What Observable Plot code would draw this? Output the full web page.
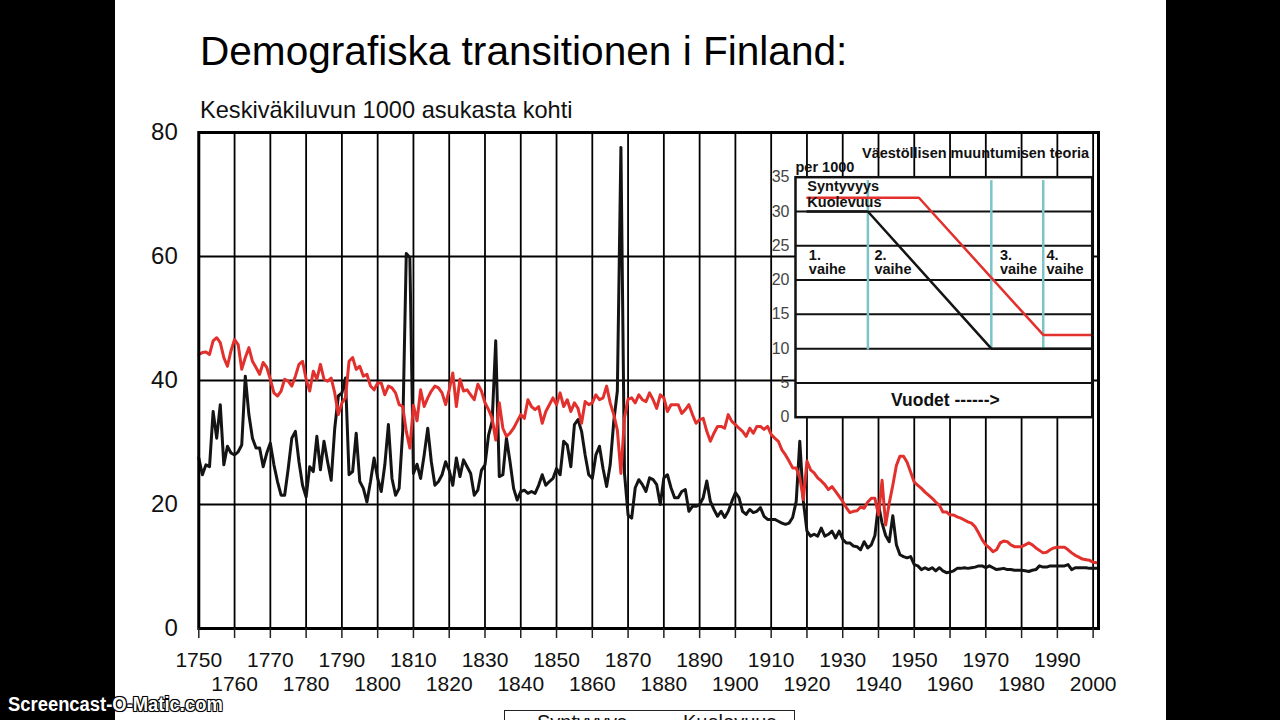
<!DOCTYPE html>
<html>
<head>
<meta charset="utf-8">
<script src="https://cdn.jsdelivr.net/npm/d3@7"></script>
<script src="https://cdn.jsdelivr.net/npm/@observablehq/plot@0.6"></script>
<style>
  html, body { margin: 0; padding: 0; width: 1280px; height: 720px; overflow: hidden; background: #000; }
  body { position: relative; font-family: "Liberation Sans", Arial, sans-serif; }
  #slide { position: absolute; left: 115px; top: 0; width: 1051px; height: 720px; background: #fff; }
  #main { position: absolute; left: 0; top: 0; }
  #inset { position: absolute; left: 760px; top: 140px; }
  .title { position: absolute; left: 200px; top: 30.5px; font-size: 40.6px; line-height: 40px; color: #000; white-space: nowrap; }
  .subtitle { position: absolute; left: 200px; top: 99px; font-size: 23.6px; line-height: 23px; color: #111; white-space: nowrap; }
  #legend { position: absolute; left: 504px; top: 710px; width: 291px; height: 40px; border: 1.5px solid #222; background: #fff; box-sizing: border-box; }
  #legend .item { position: absolute; top: 1px; font-size: 20px; line-height: 20px; color: #111; white-space: nowrap; }
  #legend .swatch { display: inline-block; width: 14px; height: 3px; vertical-align: middle; margin-right: 6px; }
  #watermark { position: absolute; left: 8px; top: 694px; font-size: 20px; line-height: 20px; font-weight: bold; color: #fff;
    transform: scaleX(0.92); transform-origin: left top; white-space: nowrap;
    text-shadow: -1px -1px 0 #000, 1px -1px 0 #000, -1px 1px 0 #000, 1px 1px 0 #000, 0 0 2px #000; }
</style>
</head>
<body>
<div id="slide"></div>
<div id="main"></div>
<div id="inset"></div>
<div class="title">Demografiska transitionen i Finland:</div>
<div class="subtitle">Keskiväkiluvun 1000 asukasta kohti</div>
<div id="legend">
  <span class="item" style="left:12px"><span class="swatch" style="background:#111"></span>Syntyvyys</span>
  <span class="item" style="left:158px"><span class="swatch" style="background:#e2302d"></span>Kuolevuus</span>
</div>
<div id="watermark">Screencast-O-Matic.com</div>
<script>
// Crude birth and death rates in Finland, per 1000 inhabitants, 1750–2001
const firstYear = 1750;

const birthRate = [
  44.2, 44.5, 44.6, 44.2, 46.4, 46.9, 46.1, 43.7, 42.3, 44.8,
  46.6, 45.8, 41.8, 43.7, 45.3, 43.1, 42.1, 41.0, 42.9, 42.1,
  40.2, 38.0, 37.5, 38.3, 40.2, 39.9, 39.1, 40.7, 42.6, 43.1,
  40.2, 38.3, 41.5, 40.2, 42.6, 40.2, 39.9, 40.4, 38.0, 34.5,
  36.4, 37.2, 43.1, 43.7, 41.8, 42.3, 40.7, 41.0, 39.1, 38.5,
  39.6, 39.6, 37.7, 39.1, 38.8, 38.0, 36.1, 35.8, 31.8, 29.1,
  36.0, 33.5, 38.5, 35.8, 37.2, 38.3, 39.1, 38.8, 38.0, 36.1,
  38.5, 41.2, 35.8, 40.2, 38.3, 38.5, 37.7, 36.9, 39.4, 38.3,
  36.4, 35.3, 33.9, 30.4, 36.4, 32.3, 31.0, 31.5, 32.3, 33.4,
  34.5, 33.9, 36.9, 35.8, 35.3, 35.8, 33.1, 35.0, 36.1, 37.2,
  36.1, 38.0, 35.8, 36.9, 35.0, 36.4, 35.5, 33.1, 36.6, 36.1,
  36.4, 37.7, 36.9, 37.2, 39.1, 36.4, 34.5, 32.0, 25.0, 34.0,
  37.0, 37.2, 36.4, 37.7, 36.9, 36.6, 38.0, 36.9, 35.5, 37.7,
  37.2, 35.0, 36.1, 36.1, 36.1, 34.7, 35.3, 36.1, 34.5, 33.1,
  33.7, 33.9, 31.8, 30.2, 31.5, 32.6, 32.6, 32.3, 34.5, 33.4,
  32.9, 32.3, 31.8, 31.0, 32.3, 31.5, 32.6, 32.6, 32.1, 32.6,
  31.3, 30.7, 30.2, 28.8, 28.0, 27.0, 25.9, 25.9, 24.3, 20.8,
  27.0, 25.6, 25.1, 24.3, 23.8, 23.2, 22.4, 22.9, 22.1, 21.3,
  20.5, 19.5, 18.7, 18.9, 19.0, 19.6, 19.4, 20.4, 21.0, 21.0,
  18.3, 23.9, 16.7, 20.2, 23.1, 26.3, 27.8, 27.8, 26.8, 25.2,
  23.6, 23.1, 22.6, 22.0, 21.5, 21.0, 20.4, 19.9, 18.8, 18.8,
  18.3, 18.3, 18.0, 17.8, 17.5, 17.2, 17.0, 16.4, 15.4, 14.3,
  13.5, 13.0, 12.4, 12.7, 13.8, 14.1, 14.0, 13.5, 13.2, 13.2,
  13.2, 13.5, 13.8, 13.5, 13.0, 12.6, 12.2, 12.3, 12.7, 13.0,
  13.1, 13.1, 13.1, 12.7, 12.2, 11.8, 11.5, 11.2, 11.1, 11.0,
  10.7, 10.6
];

const deathRate = [
  27.5, 24.8, 26.4, 26.1, 35.0, 30.7, 36.1, 26.4, 29.4, 28.3,
  28.0, 28.5, 29.6, 40.7, 34.5, 30.7, 29.1, 29.1, 26.1, 28.3,
  29.9, 26.4, 23.7, 21.5, 21.5, 25.8, 30.7, 31.8, 26.9, 23.1,
  21.2, 26.1, 25.3, 31.0, 25.6, 30.2, 26.9, 23.9, 32.3, 37.5,
  38.0, 40.4, 24.8, 25.3, 31.5, 23.7, 22.6, 20.4, 23.7, 27.5,
  24.2, 22.1, 26.4, 32.9, 24.2, 21.5, 22.6, 31.8, 60.5, 59.8,
  25.0, 26.5, 24.2, 28.0, 32.3, 26.9, 23.1, 23.7, 24.8, 26.9,
  25.5, 23.1, 27.5, 24.5, 27.2, 26.1, 25.0, 21.5, 22.3, 25.5,
  26.4, 31.2, 33.4, 46.4, 24.5, 24.8, 30.7, 26.9, 22.6, 20.7,
  22.1, 22.3, 21.8, 22.1, 21.8, 23.1, 24.8, 23.1, 23.7, 24.2,
  25.8, 24.8, 30.2, 29.6, 26.1, 32.9, 33.7, 31.8, 28.0, 24.8,
  24.2, 28.0, 29.4, 25.8, 22.9, 26.4, 33.4, 38.3, 77.6, 25.0,
  18.3, 17.8, 22.7, 24.0, 23.2, 22.1, 24.3, 24.0, 23.2, 20.0,
  24.3, 24.8, 22.7, 21.1, 21.1, 22.1, 22.4, 18.9, 19.7, 19.7,
  20.0, 21.1, 23.8, 20.5, 19.2, 18.1, 18.9, 17.9, 18.9, 20.5,
  21.9, 21.1, 18.9, 18.4, 19.2, 18.7, 18.9, 19.5, 18.1, 17.6,
  17.6, 17.6, 17.3, 17.0, 16.8, 17.0, 17.9, 20.5, 30.2, 20.5,
  15.7, 14.9, 15.2, 14.9, 16.2, 14.9, 15.2, 15.7, 14.6, 15.7,
  14.4, 13.8, 13.8, 13.3, 13.2, 12.7, 14.0, 13.0, 13.5, 15.0,
  20.0, 17.0, 15.0, 14.0, 18.2, 13.5, 11.9, 11.6, 11.4, 11.6,
  10.3, 10.1, 9.5, 9.8, 9.5, 9.8, 9.3, 9.8, 9.3, 9.0,
  9.1, 9.3, 9.7, 9.7, 9.8, 9.7, 9.8, 9.9, 10.1, 10.1,
  9.8, 10.1, 9.8, 9.5, 9.6, 9.7, 9.5, 9.5, 9.4, 9.4,
  9.4, 9.3, 9.2, 9.4, 9.5, 10.1, 9.9, 9.9, 10.1, 10.1,
  10.1, 10.1, 10.1, 10.3, 9.5, 9.8, 9.8, 9.8, 9.8, 9.7,
  9.7, 9.7
];

// Axis ticks of the main chart
const decadeTicks = [1750, 1760, 1770, 1780, 1790, 1800, 1810, 1820, 1830, 1840, 1850, 1860, 1870,
  1880, 1890, 1900, 1910, 1920, 1930, 1940, 1950, 1960, 1970, 1980, 1990, 2000];
const upperRowLabels = [1750, 1770, 1790, 1810, 1830, 1850, 1870, 1890, 1910, 1930, 1950, 1970, 1990];
const lowerRowLabels = [1760, 1780, 1800, 1820, 1840, 1860, 1880, 1900, 1920, 1940, 1960, 1980, 2000];
const rateTicks = [0, 20, 40, 60, 80];

// Inset: the model of the demographic transition (per 1000, time in arbitrary units 0–100)
const modelBirthT = [4, 41.6, 83.5, 100];
const modelBirthV = [32, 32, 12, 12];
const modelDeathT = [4, 24.4, 66, 100];
const modelDeathV = [30, 30, 10, 10];
const phaseBounds = [24.4, 66, 83.5];
const phaseLabels = ["1.\nvaihe", "2.\nvaihe", "3.\nvaihe", "4.\nvaihe"];
const phaseLabelT = [4.5, 26.6, 68.9, 84.6];
const modelTicks = [0, 5, 10, 15, 20, 25, 30, 35];
const modelGrid = [5, 10, 15, 20, 25, 30];

const BLACK = "#141414";
const RED = "#e2302d";
const FONT = "'Liberation Sans', Arial, sans-serif";

const rates = birthRate.map((b, i) => ({year: firstYear + i, births: b, deaths: deathRate[i]}));

const main = Plot.plot({
  width: 1280,
  height: 720,
  marginLeft: 198.3,
  marginRight: 182,
  marginTop: 132,
  marginBottom: 92,
  x: {type: "linear", domain: [1750, 2001.5], label: null},
  y: {type: "linear", domain: [0, 80], label: null},
  style: {background: "transparent", fontFamily: FONT, color: "#000", overflow: "visible"},
  marks: [
    Plot.gridX(decadeTicks, {stroke: "#000", strokeOpacity: 1, strokeWidth: 1.8}),
    Plot.gridY([20, 40, 60], {stroke: "#000", strokeOpacity: 1, strokeWidth: 1.8}),
    Plot.line(rates, {x: "year", y: "deaths", stroke: BLACK, strokeWidth: 3, strokeLinejoin: "round"}),
    Plot.line(rates, {x: "year", y: "births", stroke: RED, strokeWidth: 3, strokeLinejoin: "round"}),
    Plot.frame({stroke: "#000", strokeWidth: 3}),
    Plot.axisY(rateTicks, {anchor: "left", label: null, tickSize: 0, tickPadding: 21, fontSize: 24, fill: "#111",
      tickFormat: d => String(d)}),
    Plot.axisX(decadeTicks, {anchor: "bottom", label: null, tickSize: 10, tickPadding: 14, fontSize: 21, fill: "#111",
      stroke: "#222", strokeWidth: 1.5,
      tickFormat: d => upperRowLabels.includes(d) ? String(d) : ""}),
    Plot.axisX(lowerRowLabels, {anchor: "bottom", label: null, tickSize: 0, tickPadding: 48, fontSize: 21, fill: "#111",
      tickFormat: d => String(d)})
  ]
});
document.getElementById("main").append(main);

const birthModel = modelBirthT.map((t, i) => ({t, v: modelBirthV[i]}));
const deathModel = modelDeathT.map((t, i) => ({t, v: modelDeathV[i]}));

const inset = Plot.plot({
  width: 340,
  height: 285,
  marginLeft: 35,
  marginRight: 8.3,
  marginTop: 36.7,
  marginBottom: 8.3,
  x: {type: "linear", domain: [0, 100], axis: null, label: null},
  y: {type: "linear", domain: [0, 35], label: null},
  style: {background: "transparent", fontFamily: FONT, color: "#000", overflow: "visible"},
  marks: [
    Plot.frame({fill: "#fff", stroke: null}),
    Plot.ruleY(modelGrid, {stroke: "#111", strokeWidth: 2}),
    Plot.ruleX(phaseBounds, {y1: 9.8, y2: 34.5, stroke: "#7cc4c8", strokeWidth: 2.5}),
    Plot.line(deathModel, {x: "t", y: "v", stroke: BLACK, strokeWidth: 2.5}),
    Plot.line(birthModel, {x: "t", y: "v", stroke: RED, strokeWidth: 2.5}),
    Plot.text(["Syntyvyys"], {x: 4, y: 33.7, text: d => d, textAnchor: "start", fontWeight: "bold", fontSize: 14.5, fill: "#111"}),
    Plot.text(["Kuolevuus"], {x: 4, y: 31.4, text: d => d, textAnchor: "start", fontWeight: "bold", fontSize: 14.5, fill: "#111"}),
    Plot.text(phaseLabels, {x: (d, i) => phaseLabelT[i], y: 24.4, text: d => d, textAnchor: "start", lineAnchor: "top",
      lineHeight: 0.97, fontWeight: "bold", fontSize: 14.5, fill: "#111"}),
    Plot.text(["Vuodet ------>"], {x: 50.5, y: 2.4, text: d => d, fontWeight: "bold", fontSize: 17.5, fill: "#111"}),
    Plot.text(["per 1000"], {x: 0, y: 35, dy: -10, text: d => d, textAnchor: "start", fontWeight: "bold", fontSize: 14.5, fill: "#111"}),
    Plot.text(["Väestöllisen muuntumisen teoria"], {x: 100, y: 35, dx: -3, dy: -24, text: d => d, textAnchor: "end",
      fontWeight: "bold", fontSize: 14.5, fill: "#111"}),
    Plot.axisY(modelTicks, {anchor: "left", label: null, tickSize: 0, tickPadding: 6, fontSize: 16, fill: "#444",
      tickFormat: d => String(d)}),
    Plot.frame({stroke: "#111", strokeWidth: 2.5})
  ]
});
document.getElementById("inset").append(inset);
</script>
</body>
</html>
